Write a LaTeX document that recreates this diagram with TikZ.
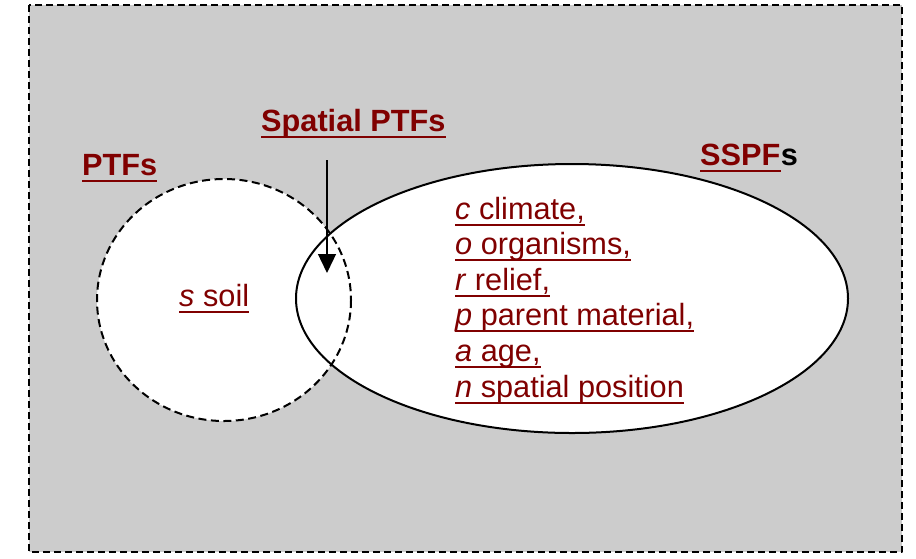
\documentclass[tikz,border=0pt]{standalone}
\usepackage{fontspec}
\setmainfont{Liberation Sans}
\usepackage{tikz}
\usetikzlibrary{arrows.meta}
\usetikzlibrary{positioning}
\definecolor{ptfred}{RGB}{128,0,0}
\definecolor{bggray}{RGB}{204,204,204}
\tikzset{lbl/.style={anchor=base west,inner sep=0,text=ptfred,font=\fontsize{30.7}{36}\selectfont\bfseries},
  fact/.style={anchor=base west,inner sep=0,text=ptfred,font=\fontsize{30.7}{36}\selectfont},
  uline/.style={draw=ptfred,line width=2pt}}

\begin{document}
\begin{tikzpicture}[x=1pt,y=-1pt,>=Stealth,line join=round]
\useasboundingbox (0,0) rectangle (916,558);
% --- gray frame
\draw[line width=1.3pt,dash pattern=on 7pt off 4pt,fill=bggray] (29,5) rectangle (902,552);
% --- PTFs circle and SSPF ellipse
\fill[white] (224,300) ellipse [x radius=127,y radius=121];
\fill[white] (572,298.5) ellipse [x radius=276,y radius=134.5];
\draw[line width=2pt] (572,298.5) ellipse [x radius=276,y radius=134.5];
\draw[line width=2pt,dash pattern=on 8pt off 4.5pt] (224,300) ellipse [x radius=127,y radius=121];
% --- labels
\node[lbl] (ptfs) at (82,175) {PTFs};
\node[lbl] (spatial) at (261,131) {Spatial PTFs};
\node[lbl] (sspf) at (700,165) {SSPF};
\node[lbl,text=black] (sspfs) at (sspf.base east) {s};
\node[fact] (soil) at (179,306) {\textit{s} soil};
\foreach \v/\t [count=\i] in {c/{climate,},o/{organisms,},r/{relief,},p/{parent material,},a/{age,},n/{spatial position}}
  \node[fact] (f\i) at (455,{219+(\i-1)*35.6}) {\textit{\v} \t};
% underlines
\foreach \n in {ptfs,spatial,sspf,soil,f1,f2,f3,f4,f5,f6}
  \draw[uline] ([yshift=-5.5pt]\n.base west) -- ([yshift=-5.5pt]\n.base east);
% --- arrow into the overlap
\coordinate (arrtop) at (327,160);
\coordinate (arrtip) at (327,273);
\draw[line width=1.3pt,-{Triangle[width=18pt,length=19pt]}] (arrtop) -- (arrtip);
\end{tikzpicture}
\end{document}
